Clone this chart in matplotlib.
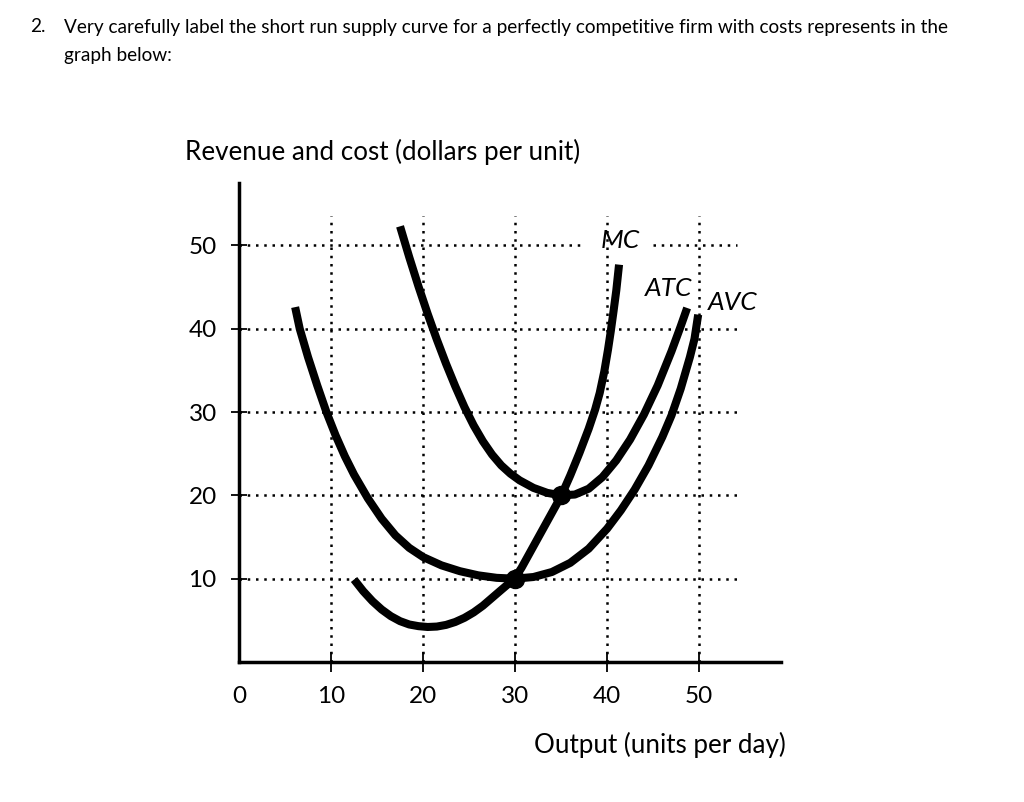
import matplotlib
matplotlib.use("Agg")
import matplotlib.pyplot as plt

plt.rcParams["font.family"] = ["Lato", "DejaVu Sans"]

# question text above the graph
question_num = "2."
question_lines = [
    "Very carefully label the short run supply curve for a perfectly competitive firm with costs represents in the",
    "graph below:",
]

y_label = "Revenue and cost (dollars per unit)"
x_label = "Output (units per day)"

x_ticks = [0, 10, 20, 30, 40, 50]
y_ticks = [10, 20, 30, 40, 50]
grid_x = [10, 20, 30, 40, 50]
grid_y = [10, 20, 30, 40]

# marginal cost
mc_x = [12.5, 13.5, 14.5, 15.5, 16.5, 17.5, 18.5, 19.5, 20.5, 21.5, 22.5, 23.5,
        24.5, 25.5, 26.5, 27.5, 28.5, 29.3, 30, 30.7, 31.5, 32.5, 33.5, 34.5,
        35, 36, 37, 38, 38.7, 39.2, 39.7, 40.1, 40.4, 40.7, 41.0, 41.3]
mc_y = [9.9, 8.5, 7.3, 6.3, 5.5, 4.9, 4.5, 4.3, 4.2, 4.25, 4.45, 4.8,
        5.3, 5.95, 6.75, 7.7, 8.65, 9.4, 10.1, 11.3, 12.9, 14.9, 16.9, 18.9,
        19.9, 22.4, 25.1, 28.0, 30.3, 32.3, 34.9, 37.5, 39.7, 42.1, 44.6, 47.7]

# average variable cost
avc_x = [6.1, 6.6, 7.5, 8.5, 9.5, 10.5, 11.5, 12.5, 14, 15.5, 17, 18.5, 20,
         22, 24, 26, 28, 30, 32, 34, 36, 38, 40, 41.5, 43, 44.5, 46, 47,
         48, 49, 49.5, 49.9]
avc_y = [42.6, 40.0, 36.6, 33.2, 30.0, 27.2, 24.7, 22.5, 19.65, 17.2, 15.2, 13.7, 12.6,
         11.6, 10.9, 10.4, 10.1, 10.0, 10.2, 10.8, 11.9, 13.6, 16.0, 18.2, 20.7, 23.6, 27.0, 29.6,
         32.8, 36.6, 38.8, 41.7]

# average total cost
atc_x = [17.5, 18.5, 19.5, 20.5, 21.5, 22.5, 23.5, 24.5, 25.5, 26.5, 27.5, 28.5,
         29.5, 30.5, 32, 33.5, 35, 36.5, 38, 39.5, 41, 42.5, 44, 45.5, 47, 48, 48.7]
atc_y = [52.3, 48.6, 45.1, 41.8, 38.7, 35.8, 33.1, 30.6, 28.4, 26.5, 24.9, 23.6,
         22.6, 21.8, 20.9, 20.3, 20.0, 20.1, 20.8, 22.2, 24.2, 26.7, 29.7, 33.2, 37.3, 40.3, 42.5]

# shutdown point and break-even point
dots_x = [30, 35]
dots_y = [10, 20]

curve_labels = ["MC", "ATC", "AVC"]
curve_label_x = [41.4, 46.7, 53.7]
curve_label_y = [50.6, 44.8, 43.1]

dot_style = dict(color="black", linewidth=1.8, linestyles=(0, (1, 2.3)))
curve_style = dict(color="black", linewidth=5.8, solid_capstyle="butt",
                   solid_joinstyle="round")

fig = plt.figure(figsize=(10.24, 8.02), dpi=100)
fig.patch.set_facecolor("white")

fig.text(30 / 1024, 1 - 27 / 802, question_num, fontsize=13.7, va="center", ha="left")
fig.text(64 / 1024, 1 - 27 / 802, question_lines[0], fontsize=13.7, va="center", ha="left")
fig.text(64 / 1024, 1 - 55 / 802, question_lines[1], fontsize=13.7, va="center", ha="left")

ax = fig.add_axes([0.2334, 0.1746, 0.5293, 0.5972])
ax.set_xlim(0, 58.9)
ax.set_ylim(0, 57.5)

# dotted guide lines
ax.hlines(grid_y, 0, 54.1, **dot_style)
ax.hlines([50, 50], [0, 45.0], [37.3, 54.1], **dot_style)
ax.vlines(grid_x, 0, 53.5, **dot_style)

ax.plot(mc_x, mc_y, **curve_style)
ax.plot(avc_x, avc_y, **curve_style)
ax.plot(atc_x, atc_y, **curve_style)
ax.plot(dots_x, dots_y, "o", color="black", markersize=13, zorder=5)

for lab, lx, ly in zip(curve_labels, curve_label_x, curve_label_y):
    ax.text(lx, ly, lab, fontsize=19, fontstyle="italic", ha="center", va="center")

for side in ["top", "right"]:
    ax.spines[side].set_visible(False)
for side in ["left", "bottom"]:
    ax.spines[side].set_linewidth(2.5)

ax.set_xticks(x_ticks)
ax.set_yticks(y_ticks)
ax.set_xticklabels([str(v) for v in x_ticks], fontsize=17.5)
ax.set_yticklabels([str(v) for v in y_ticks], fontsize=17.5)
ax.tick_params(axis="x", direction="inout", length=14, width=1.3, pad=10)
ax.tick_params(axis="y", direction="inout", length=12, width=1.3, pad=10)
ax.xaxis.get_major_ticks()[0].tick1line.set_visible(False)

fig.text(185 / 1024, 1 - 152 / 802, y_label, fontsize=18.7, va="center", ha="left")
fig.text(786 / 1024, 1 - 745 / 802, x_label, fontsize=18.7, va="center", ha="right")

fig.savefig("out.png", dpi=100, facecolor="white")
